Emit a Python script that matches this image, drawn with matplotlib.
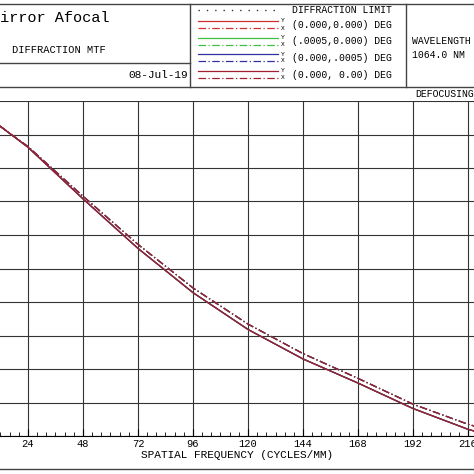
import matplotlib.pyplot as plt
from matplotlib.lines import Line2D
import numpy as np

freq = [11.8, 24, 48, 72, 96, 120, 144, 168, 192, 216, 218.6]
mtf_tan = [0.925, 0.862, 0.708, 0.560, 0.428, 0.318, 0.230, 0.158, 0.082, 0.020, 0.015]
mtf_sag = [0.925, 0.864, 0.716, 0.572, 0.442, 0.334, 0.246, 0.172, 0.095, 0.035, 0.030]
xticks = [24, 48, 72, 96, 120, 144, 168, 192, 216]
legend_labels = ["(0.000,0.000) DEG", "(.0005,0.000) DEG", "(0.000,.0005) DEG", "(0.000, 0.00) DEG"]
legend_colors = ["#d03030", "#40c040", "#3030a0", "#a02030"]

W = 474.0
mono = "Liberation Mono"
fig = plt.figure(figsize=(4.74, 4.74), dpi=100)

def px(x, y):
    return x / W, 1 - y / W

# plot area: top at y=101, bottom at y=436
ax = fig.add_axes([0, 1 - 436 / W, 1, (436 - 101) / W])
ax.set_xlim(11.8, 218.6)
ax.set_ylim(0, 1)
ax.set_xticks(xticks)
ax.set_xticklabels([str(t) for t in xticks], family=mono, fontsize=7.5)
ax.set_xticks(np.arange(12, 218, 4), minor=True)
ax.set_yticks(np.arange(0, 1.01, 0.1))
ax.set_yticklabels([])
ax.tick_params(axis="y", length=0)
ax.tick_params(axis="x", which="major", direction="in", length=5, pad=2)
ax.tick_params(axis="x", which="minor", direction="in", length=3)
ax.grid(True, color="#333333", lw=0.8)
for s in ["left", "right", "top"]:
    ax.spines[s].set_visible(False)
ax.set_xlabel("SPATIAL FREQUENCY (CYCLES/MM)", family=mono, fontsize=8, labelpad=1)

for c in legend_colors:
    ax.plot(freq, mtf_tan, color=c, lw=0.9)
    ax.plot(freq, mtf_sag, color=c, lw=0.9, ls=(0, (6, 2, 1, 2)))

# header frame
def hline(y, x0=0, x1=W, lw=1.0):
    fig.add_artist(Line2D([x0 / W, x1 / W], [1 - y / W, 1 - y / W], color="#444444", lw=lw))

def vline(x, y0, y1):
    fig.add_artist(Line2D([x / W, x / W], [1 - y0 / W, 1 - y1 / W], color="#444444", lw=1.0))

hline(4)
hline(63, 0, 190)
hline(87)
hline(469)
vline(190, 4, 87)
vline(406, 4, 87)

fig.text(*px(0, 18), "irror Afocal", family=mono, fontsize=11, va="center")
fig.text(*px(12, 50), "DIFFRACTION MTF", family=mono, fontsize=7.5, va="center")
fig.text(*px(188, 75), "08-Jul-19", family=mono, fontsize=8, va="center", ha="right")
fig.text(*px(292, 10), "DIFFRACTION LIMIT", family=mono, fontsize=7, va="center")
fig.add_artist(Line2D([198 / W, 278 / W], [1 - 10 / W] * 2, color="#333333", lw=1, ls=(0, (1, 5))))
for i, (lab, c) in enumerate(zip(legend_labels, legend_colors)):
    y = 24 + i * 16.5
    fig.add_artist(Line2D([198 / W, 278 / W], [1 - (y - 3) / W] * 2, color=c, lw=0.9))
    fig.add_artist(Line2D([198 / W, 278 / W], [1 - (y + 4) / W] * 2, color=c, lw=0.9, ls=(0, (6, 2, 1, 2))))
    fig.text(*px(283, y - 3), "Y", family=mono, fontsize=4.5, va="center", ha="center")
    fig.text(*px(283, y + 4), "X", family=mono, fontsize=4.5, va="center", ha="center")
    fig.text(*px(292, y + 1), lab, family=mono, fontsize=7, va="center")
fig.text(*px(412, 41), "WAVELENGTH", family=mono, fontsize=7, va="center")
fig.text(*px(412, 55), "1064.0 NM", family=mono, fontsize=7, va="center")
fig.text(*px(474, 94), "DEFOCUSING", family=mono, fontsize=7, va="center", ha="right")

fig.savefig("out.png", dpi=100)
